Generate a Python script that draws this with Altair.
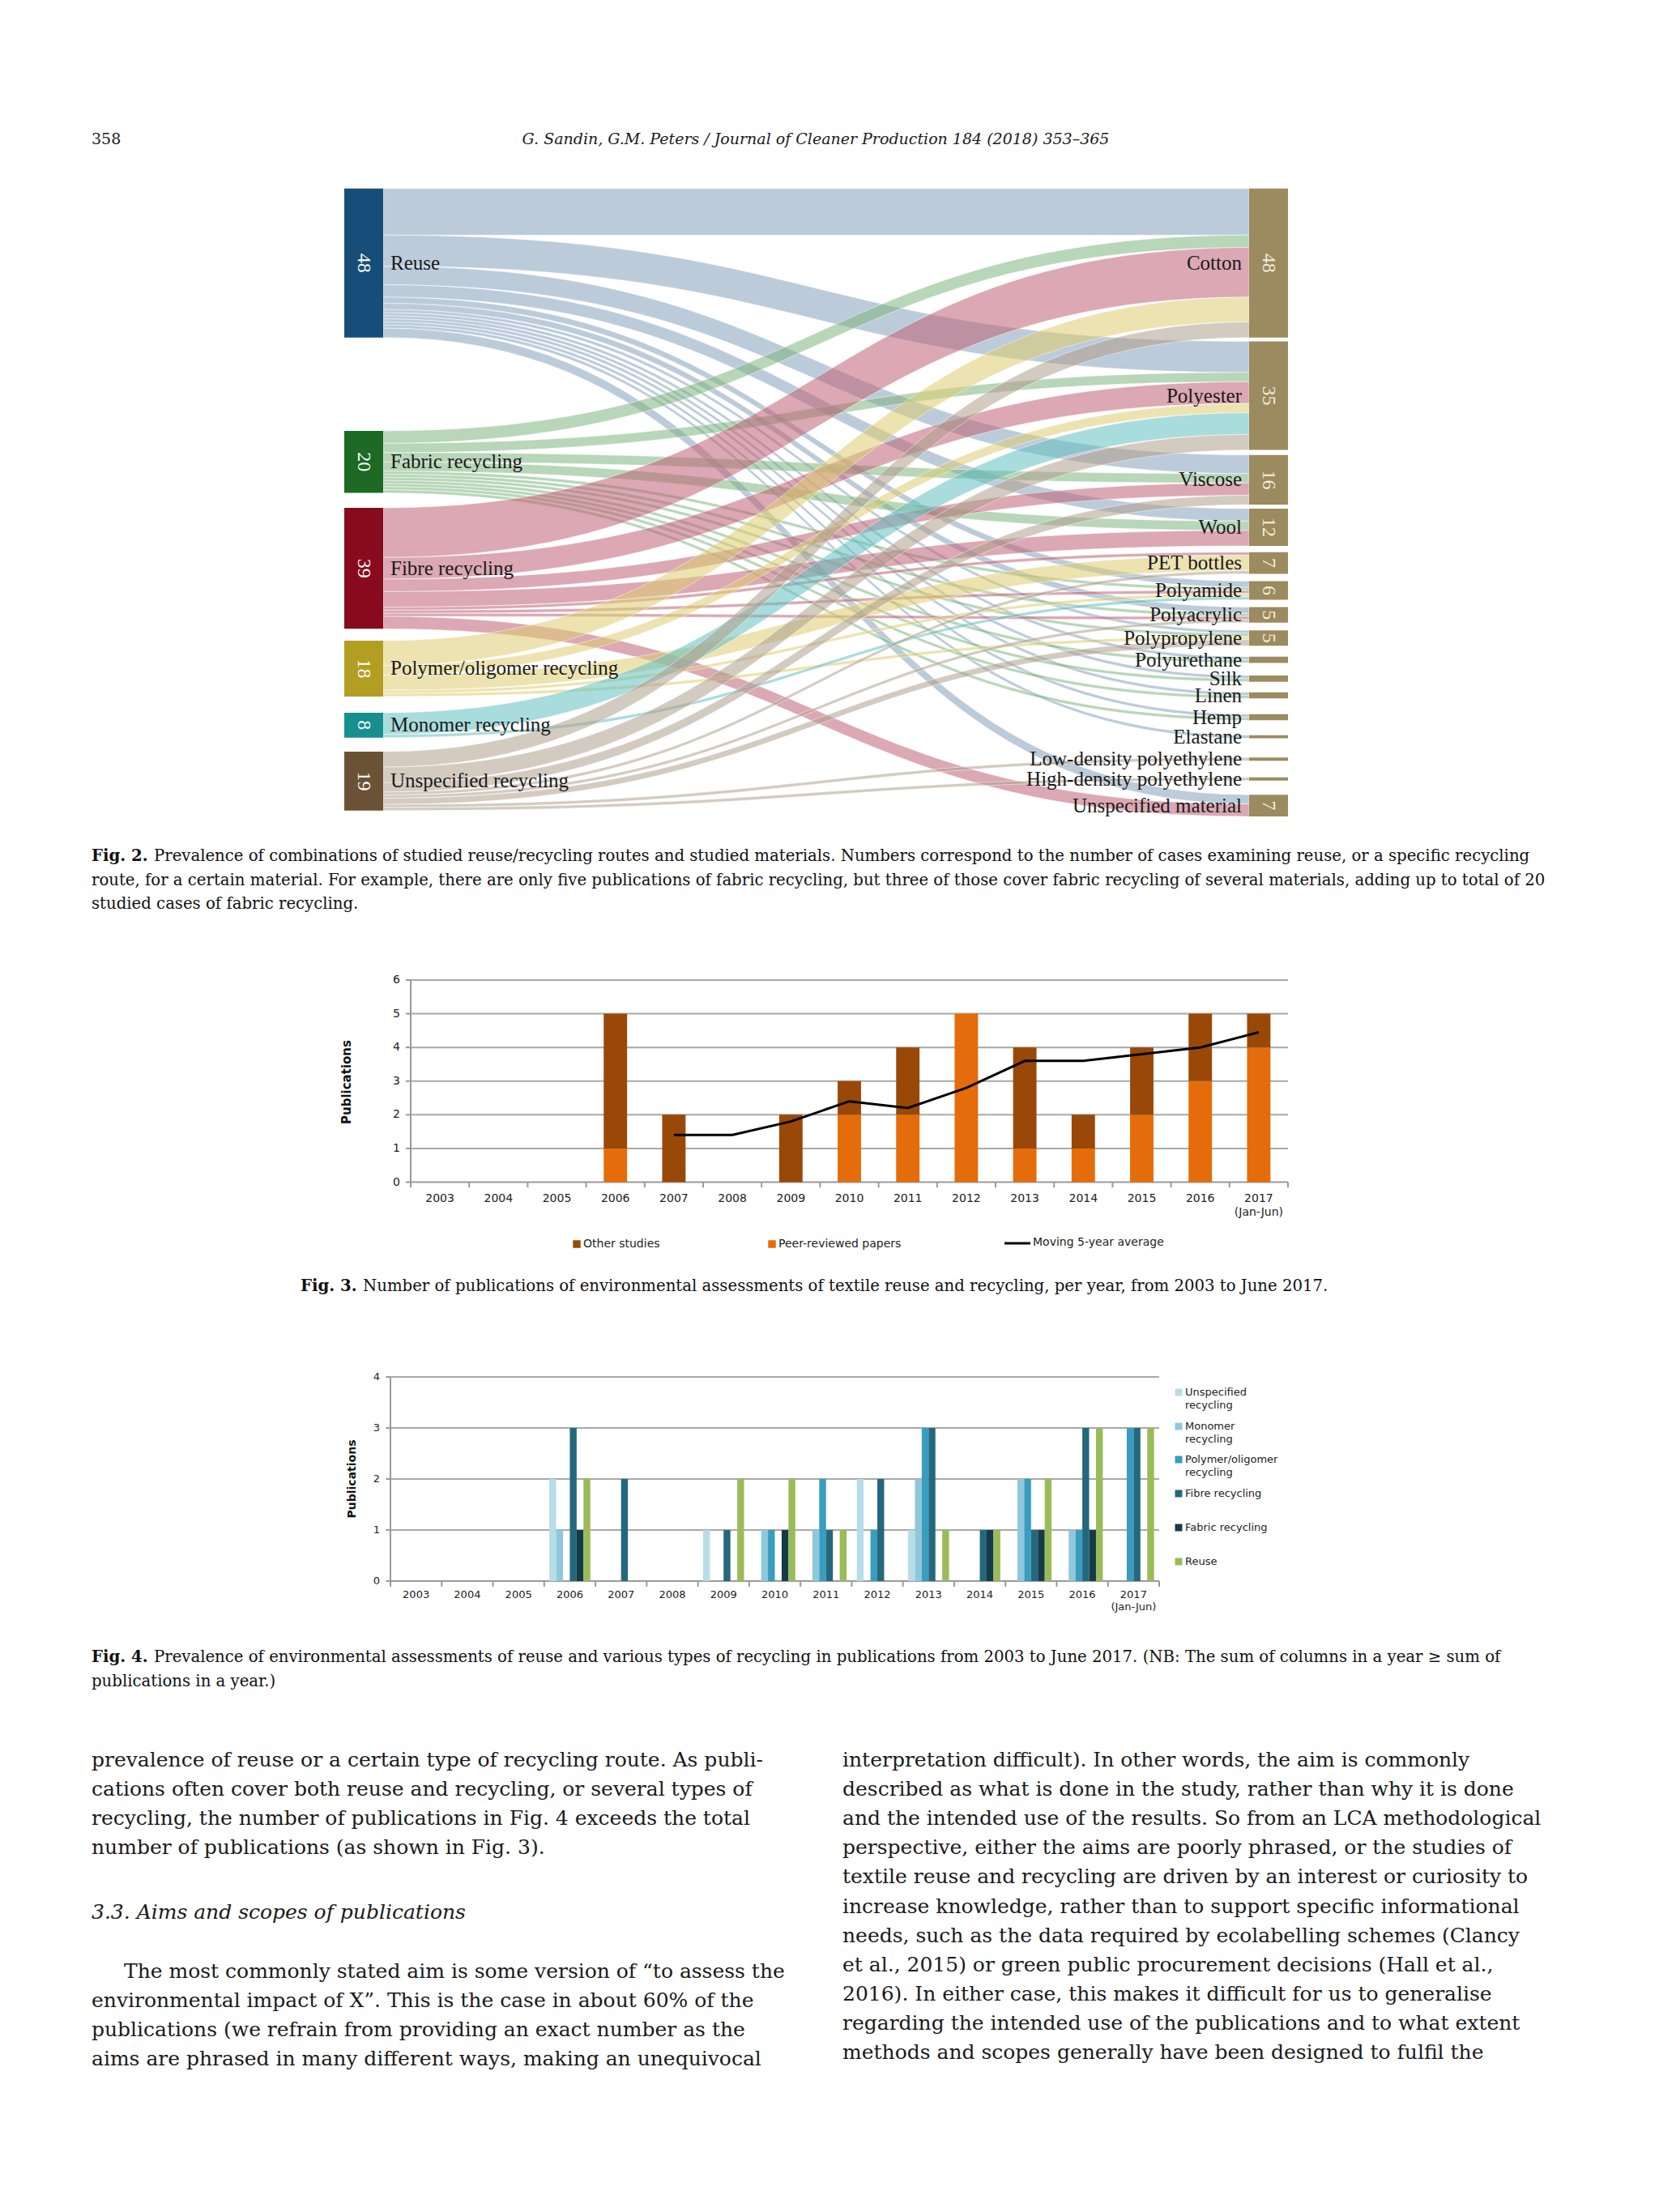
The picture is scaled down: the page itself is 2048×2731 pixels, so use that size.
import altair as alt
import pandas as pd

# ======================= DATA =======================
# ---- Fig. 2 : Sankey (routes -> materials) ----
ROUTES = ["Reuse", "Fabric recycling", "Fibre recycling",
          "Polymer/oligomer recycling", "Monomer recycling", "Unspecified recycling"]
ROUTE_TOTALS = [48, 20, 39, 18, 8, 19]
MATERIALS = ["Cotton", "Polyester", "Viscose", "Wool", "PET bottles", "Polyamide",
             "Polyacrylic", "Polypropylene", "Polyurethane", "Silk", "Linen", "Hemp",
             "Elastane", "Low-density polyethylene", "High-density polyethylene",
             "Unspecified material"]
MATERIAL_TOTALS = [48, 35, 16, 12, 7, 6, 5, 5, 2, 2, 2, 2, 1, 1, 1, 7]
#                 Cot Pes Vis Wol PET PA  PAC PP  PU  Sil Lin Hmp Ela LD  HD  Uns
FLOW_REUSE   = [15, 10, 6, 4, 0, 2, 2, 1, 1, 1, 1, 1, 1, 0, 0, 3]
FLOW_FABRIC  = [4, 3, 3, 3, 0, 1, 1, 1, 1, 1, 1, 1, 0, 0, 0, 0]
FLOW_FIBRE   = [16, 7, 4, 5, 1, 1, 1, 0, 0, 0, 0, 0, 0, 0, 0, 4]
FLOW_POLYMER = [8, 3, 0, 0, 5, 1, 0, 1, 0, 0, 0, 0, 0, 0, 0, 0]
FLOW_MONOMER = [0, 7, 0, 0, 0, 1, 0, 0, 0, 0, 0, 0, 0, 0, 0, 0]
FLOW_UNSPEC  = [5, 5, 3, 0, 1, 0, 1, 2, 0, 0, 0, 0, 0, 1, 1, 0]
FLOWS = [FLOW_REUSE, FLOW_FABRIC, FLOW_FIBRE, FLOW_POLYMER, FLOW_MONOMER, FLOW_UNSPEC]

# ---- Fig. 3 ----
YEAR_LABELS = ["2003", "2004", "2005", "2006", "2007", "2008", "2009", "2010",
               "2011", "2012", "2013", "2014", "2015", "2016", "2017\n(Jan-Jun)"]
PEER_REVIEWED = [0, 0, 0, 1, 0, 0, 0, 2, 2, 5, 1, 1, 2, 3, 4]
OTHER_STUDIES = [0, 0, 0, 4, 2, 0, 2, 1, 2, 0, 3, 1, 2, 2, 1]
MOVING_AVG = [None, None, None, None, 1.4, 1.4, 1.8, 2.4, 2.2, 2.8, 3.6, 3.6, 3.8, 4.0, 4.45]
F3_TICKS = [0, 1, 2, 3, 4, 5, 6]

# ---- Fig. 4 ----
F4_SERIES = ["Unspecified recycling", "Monomer recycling", "Polymer/oligomer recycling",
             "Fibre recycling", "Fabric recycling", "Reuse"]
F4_UNSPEC  = [0, 0, 0, 2, 0, 0, 1, 0, 0, 2, 1, 0, 0, 0, 0]
F4_MONOMER = [0, 0, 0, 1, 0, 0, 0, 1, 1, 0, 2, 0, 2, 1, 0]
F4_POLYMER = [0, 0, 0, 0, 0, 0, 0, 1, 2, 1, 3, 0, 2, 1, 3]
F4_FIBRE   = [0, 0, 0, 3, 2, 0, 1, 0, 1, 2, 3, 1, 1, 3, 3]
F4_FABRIC  = [0, 0, 0, 1, 0, 0, 0, 1, 0, 0, 0, 1, 1, 1, 0]
F4_REUSE   = [0, 0, 0, 2, 0, 0, 2, 2, 1, 0, 1, 1, 2, 3, 3]
F4_VALUES = [F4_UNSPEC, F4_MONOMER, F4_POLYMER, F4_FIBRE, F4_FABRIC, F4_REUSE]
F4_TICKS = [0, 1, 2, 3, 4]
F4_LEGEND_LINES = [["Unspecified", "recycling"], ["Monomer", "recycling"],
                   ["Polymer/oligomer", "recycling"], ["Fibre recycling"],
                   ["Fabric recycling"], ["Reuse"]]

# ---- Text ----
HEADER_LEFT = "358"
HEADER_CENTER = "G. Sandin, G.M. Peters / Journal of Cleaner Production 184 (2018) 353\u2013365"
CAP2 = ["Prevalence of combinations of studied reuse/recycling routes and studied materials. Numbers correspond to the number of cases examining reuse, or a specific recycling",
        "route, for a certain material. For example, there are only five publications of fabric recycling, but three of those cover fabric recycling of several materials, adding up to total of 20",
        "studied cases of fabric recycling."]
CAP3 = "Number of publications of environmental assessments of textile reuse and recycling, per year, from 2003 to June 2017."
CAP4 = ["Prevalence of environmental assessments of reuse and various types of recycling in publications from 2003 to June 2017. (NB: The sum of columns in a year \u2265 sum of",
        "publications in a year.)"]
BODY_LEFT_1 = ["prevalence of reuse or a certain type of recycling route. As publi-",
               "cations often cover both reuse and recycling, or several types of",
               "recycling, the number of publications in Fig. 4 exceeds the total",
               "number of publications (as shown in Fig. 3)."]
HEADING = "3.3.  Aims and scopes of publications"
BODY_LEFT_2 = ["The most commonly stated aim is some version of \u201cto assess the",
               "environmental impact of X\u201d. This is the case in about 60% of the",
               "publications (we refrain from providing an exact number as the",
               "aims are phrased in many different ways, making an unequivocal"]
BODY_RIGHT = ["interpretation difficult). In other words, the aim is commonly",
              "described as what is done in the study, rather than why it is done",
              "and the intended use of the results. So from an LCA methodological",
              "perspective, either the aims are poorly phrased, or the studies of",
              "textile reuse and recycling are driven by an interest or curiosity to",
              "increase knowledge, rather than to support specific informational",
              "needs, such as the data required by ecolabelling schemes (Clancy",
              "et al., 2015) or green public procurement decisions (Hall et al.,",
              "2016). In either case, this makes it difficult for us to generalise",
              "regarding the intended use of the publications and to what extent",
              "methods and scopes generally have been designed to fulfil the"]

# ======================= LAYOUT / STYLE =======================
M = 8
CW, CH = 2048 - 2 * M, 2731 - 2 * M


def c(v):
    return v - M


PX = alt.Scale(domain=[M, 2048 - M], range=[0, CW], nice=False, zero=False)
PY = alt.Scale(domain=[M, 2731 - M], range=[0, CH], nice=False, zero=False)

SK_UNIT = 3.83
SK_LEFT_X = (425, 473)
SK_RIGHT_X = (1542, 1590)
SK_LEFT_TOP = [232.8, 532, 627, 791, 880, 928]
SK_RIGHT_TOP = [232.8, 421.5, 561.8, 628, 681.7, 717.4, 749.6, 778.2, 810.8, 834,
                854.7, 881.7, 907.7, 935.3, 959.8, 981.2]
LEFT_NODE_COLORS = ["#174e79", "#1c6a24", "#870b1d", "#b49e22", "#178f8f", "#6b5234"]
RIBBON_COLORS = ["#85a0bc", "#7eb57e", "#be6175", "#dccc6f", "#63c0c0", "#af9e8c"]
RIGHT_NODE_COLOR = "#9c8b5f"

F3_X0, F3_X1, F3_YB, F3_YT = 507, 1590, 1459.5, 1210
F3_COLORS = ["#e46c0a", "#9a4808"]
F4_X0, F4_X1, F4_YB, F4_YT = 482, 1431, 1952, 1700
F4_COLORS = ["#b7dde8", "#8fc8da", "#3a9cbf", "#24687d", "#153a48", "#9bbb59"]
GRID = "#a8a8a8"
SERIF = "DejaVu Serif"
SANS = "DejaVu Sans"
SK_FONT = "Liberation Serif"
CAP_SIZE = 19.7
BODY_SIZE = 25.0

layers = []


def xy(sx, sy, x2=False, y2=False):
    e = dict(x=alt.X("x:Q", scale=sx, axis=None),
             y=alt.Y("y:Q", scale=sy, axis=None, stack=False))
    if x2:
        e["x2"] = alt.X2("x2:Q")
    if y2:
        e["y2"] = alt.Y2("y2:Q")
    return e


def text_layer(rows, sx=PX, sy=PY, **kw):
    base = dict(align="left", baseline="middle", font=SERIF, fontSize=20, color="#1a1a1a")
    base.update(kw)
    return alt.Chart(pd.DataFrame(rows, columns=["x", "y", "t"])).mark_text(**base).encode(
        **xy(sx, sy), text="t:N")


# ======================= FIG 2: SANKEY =======================
left_y, right_y = {}, {}
for i in range(len(ROUTES)):
    off = SK_LEFT_TOP[i]
    for j in range(len(MATERIALS)):
        v = FLOWS[i][j]
        if v:
            left_y[(i, j)] = off
            off += v * SK_UNIT
for j in range(len(MATERIALS)):
    off = SK_RIGHT_TOP[j]
    for i in range(len(ROUTES)):
        v = FLOWS[i][j]
        if v:
            right_y[(i, j)] = off
            off += v * SK_UNIT

rib = []
N = 48
x0, x1 = SK_LEFT_X[1], SK_RIGHT_X[0]
xm = (x0 + x1) / 2
for (i, j), y0 in left_y.items():
    y1 = right_y[(i, j)]
    h = FLOWS[i][j] * SK_UNIT
    for k in range(N + 1):
        t = k / N
        x = (1 - t) ** 3 * x0 + 3 * (1 - t) ** 2 * t * xm + 3 * (1 - t) * t ** 2 * xm + t ** 3 * x1
        e = 3 * t * t - 2 * t ** 3
        yy = y0 + (y1 - y0) * e
        rib.append(dict(flow=f"{i}-{j}", route=ROUTES[i], x=x, y=yy, y2=yy + h))
rib_df = pd.DataFrame(rib)
layers.append(
    alt.Chart(rib_df).mark_area(fillOpacity=0.55, stroke="white", strokeWidth=0.8,
                                strokeOpacity=0.6, interpolate="linear").encode(
        **xy(PX, PY, y2=True),
        color=alt.Color("route:N", scale=alt.Scale(domain=ROUTES, range=RIBBON_COLORS), legend=None),
        detail="flow:N"))

ln = pd.DataFrame({"name": ROUTES, "v": ROUTE_TOTALS, "top": SK_LEFT_TOP})
ln["x"], ln["x2"] = SK_LEFT_X
ln["y"] = ln["top"]
ln["y2"] = ln["top"] + ln["v"] * SK_UNIT
layers.append(alt.Chart(ln).mark_rect().encode(
    **xy(PX, PY, x2=True, y2=True),
    color=alt.Color("name:N", scale=alt.Scale(domain=ROUTES, range=LEFT_NODE_COLORS), legend=None)))

rn = pd.DataFrame({"name": MATERIALS, "v": MATERIAL_TOTALS, "top": SK_RIGHT_TOP})
rn["x"], rn["x2"] = SK_RIGHT_X
rn["y"] = rn["top"]
rn["y2"] = rn["top"] + rn["v"] * SK_UNIT
layers.append(alt.Chart(rn).mark_rect(color=RIGHT_NODE_COLOR).encode(**xy(PX, PY, x2=True, y2=True)))

# node numbers
lnum = [((SK_LEFT_X[0] + SK_LEFT_X[1]) / 2, r.y + (r.y2 - r.y) / 2, str(r.v)) for r in ln.itertuples()]
rnum = [((SK_RIGHT_X[0] + SK_RIGHT_X[1]) / 2, r.y + (r.y2 - r.y) / 2, str(r.v))
        for r in rn.itertuples() if r.v >= 5]
layers.append(text_layer(lnum, align="center", font=SK_FONT, fontSize=24, angle=90, color="white"))
layers.append(text_layer(rnum, align="center", font=SK_FONT, fontSize=24, angle=90, color="#f4eedc"))
# node labels
llab = [(SK_LEFT_X[1] + 9, r.y + (r.y2 - r.y) / 2, r.name) for r in ln.itertuples()]
rlab = [(SK_RIGHT_X[0] - 9, r.y + (r.y2 - r.y) / 2, r.name) for r in rn.itertuples()]
layers.append(text_layer(llab, font=SK_FONT, fontSize=25, color="#1a1a1a"))
layers.append(text_layer(rlab, align="right", font=SK_FONT, fontSize=25, color="#1a1a1a"))

# ======================= FIG 3 =======================
F3X = alt.Scale(domain=[-0.5, 14.5], range=[c(F3_X0), c(F3_X1)], nice=False, zero=False)
F3Y = alt.Scale(domain=[0, 6], range=[c(F3_YB), c(F3_YT)], nice=False, zero=False)
n = len(YEAR_LABELS)
grid3 = pd.DataFrame({"x": -0.5, "x2": 14.5, "y": F3_TICKS[1:], "y2": F3_TICKS[1:]})
layers.append(alt.Chart(grid3).mark_rule(color=GRID, strokeWidth=2).encode(**xy(F3X, F3Y, x2=True, y2=True)))
axis3 = pd.DataFrame([
    {"x": -0.5, "x2": 14.5, "y": 0, "y2": 0},
    {"x": -0.5, "x2": -0.5, "y": 0, "y2": 6}]
    + [{"x": -0.5 - 0.085, "x2": -0.5, "y": v, "y2": v} for v in F3_TICKS]
    + [{"x": k - 0.5, "x2": k - 0.5, "y": 0, "y2": -0.16} for k in range(n + 1)])
layers.append(alt.Chart(axis3).mark_rule(color="#9a9a9a", strokeWidth=2).encode(**xy(F3X, F3Y, x2=True, y2=True)))

bars3 = []
for k in range(n):
    if PEER_REVIEWED[k]:
        bars3.append(dict(s="Peer-reviewed papers", x=k - 0.2, x2=k + 0.2, y=0, y2=PEER_REVIEWED[k]))
    if OTHER_STUDIES[k]:
        bars3.append(dict(s="Other studies", x=k - 0.2, x2=k + 0.2, y=PEER_REVIEWED[k],
                          y2=PEER_REVIEWED[k] + OTHER_STUDIES[k]))
layers.append(alt.Chart(pd.DataFrame(bars3)).mark_rect().encode(
    **xy(F3X, F3Y, x2=True, y2=True),
    color=alt.Color("s:N", scale=alt.Scale(domain=["Peer-reviewed papers", "Other studies"], range=F3_COLORS),
                    legend=None)))
line3 = pd.DataFrame([{"x": k, "y": v} for k, v in enumerate(MOVING_AVG) if v is not None])
layers.append(alt.Chart(line3).mark_line(color="black", strokeWidth=3).encode(**xy(F3X, F3Y)))

layers.append(text_layer([(k, 0, YEAR_LABELS[k]) for k in range(n)], F3X, F3Y, align="center",
                         baseline="top", dy=13, font=SANS, fontSize=14, color="#222222",
                         lineBreak="\n", lineHeight=17))
layers.append(text_layer([(-0.5, v, str(v)) for v in F3_TICKS], F3X, F3Y, align="right",
                         dx=-13, font=SANS, fontSize=14, color="#222222"))
layers.append(text_layer([(428, 1336, "Publications")], align="center", angle=270,
                         font=SANS, fontSize=15, fontWeight="bold", color="#111111"))
# legend
leg3 = pd.DataFrame({"x": [712, 953], "y": [1536, 1536], "s": ["Other studies", "Peer-reviewed papers"]})
layers.append(alt.Chart(leg3).mark_square(size=90, opacity=1).encode(
    **xy(PX, PY),
    color=alt.Color("s:N", scale=alt.Scale(domain=["Peer-reviewed papers", "Other studies"], range=F3_COLORS),
                    legend=None)))
layers.append(alt.Chart(pd.DataFrame({"x": [1240], "x2": [1272], "y": [1535], "y2": [1535]})).mark_rule(
    color="black", strokeWidth=3).encode(**xy(PX, PY, x2=True, y2=True)))
layers.append(text_layer([(720, 1536, "Other studies"), (961, 1536, "Peer-reviewed papers"),
                          (1275, 1534, "Moving 5-year average")],
                         font=SANS, fontSize=14, color="#222222"))

# ======================= FIG 4 =======================
F4X = alt.Scale(domain=[-0.5, 14.5], range=[c(F4_X0), c(F4_X1)], nice=False, zero=False)
F4Y = alt.Scale(domain=[0, 4], range=[c(F4_YB), c(F4_YT)], nice=False, zero=False)
grid4 = pd.DataFrame({"x": -0.5, "x2": 14.5, "y": F4_TICKS[1:], "y2": F4_TICKS[1:]})
layers.append(alt.Chart(grid4).mark_rule(color=GRID, strokeWidth=2).encode(**xy(F4X, F4Y, x2=True, y2=True)))
axis4 = pd.DataFrame([
    {"x": -0.5, "x2": 14.5, "y": 0, "y2": 0},
    {"x": -0.5, "x2": -0.5, "y": 0, "y2": 4}]
    + [{"x": -0.5 - 0.09, "x2": -0.5, "y": v, "y2": v} for v in F4_TICKS]
    + [{"x": k - 0.5, "x2": k - 0.5, "y": 0, "y2": -0.11} for k in range(n + 1)])
layers.append(alt.Chart(axis4).mark_rule(color="#9a9a9a", strokeWidth=2).encode(**xy(F4X, F4Y, x2=True, y2=True)))
bw = 0.8 / len(F4_SERIES)
bars4 = []
for s, vals in enumerate(F4_VALUES):
    for k in range(n):
        if vals[k]:
            xa = k - 0.4 + s * bw
            bars4.append(dict(s=F4_SERIES[s], x=xa, x2=xa + bw, y=0, y2=vals[k]))
layers.append(alt.Chart(pd.DataFrame(bars4)).mark_rect().encode(
    **xy(F4X, F4Y, x2=True, y2=True),
    color=alt.Color("s:N", scale=alt.Scale(domain=F4_SERIES, range=F4_COLORS), legend=None)))
layers.append(text_layer([(k, 0, YEAR_LABELS[k]) for k in range(n)], F4X, F4Y, align="center",
                         baseline="top", dy=11, font=SANS, fontSize=13, color="#222222",
                         lineBreak="\n", lineHeight=15))
layers.append(text_layer([(-0.5, v, str(v)) for v in F4_TICKS], F4X, F4Y, align="right",
                         dx=-13, font=SANS, fontSize=13, color="#222222"))
layers.append(text_layer([(435, 1826, "Publications")], align="center", angle=270,
                         font=SANS, fontSize=14, fontWeight="bold", color="#111111"))
LEG4_Y = [1719, 1761, 1802, 1844, 1886, 1928]
leg4 = pd.DataFrame({"x": 1455, "y": LEG4_Y, "s": F4_SERIES})
layers.append(alt.Chart(leg4).mark_square(size=80, opacity=1).encode(
    **xy(PX, PY), color=alt.Color("s:N", scale=alt.Scale(domain=F4_SERIES, range=F4_COLORS), legend=None)))
leg4_text = []
for yy, lines in zip(LEG4_Y, F4_LEGEND_LINES):
    for li, s in enumerate(lines):
        leg4_text.append((1463, yy + 15.5 * li, s))
layers.append(text_layer(leg4_text, font=SANS, fontSize=13, color="#222222"))

# ======================= PAGE TEXT =======================
layers.append(text_layer([(113, 172, HEADER_LEFT)], font=SERIF, fontSize=19))
layers.append(text_layer([(1007, 172, HEADER_CENTER)], align="center", font=SERIF, fontSize=19,
                         fontStyle="italic"))
# captions
layers.append(text_layer([(113, 1057, "Fig. 2."), (371, 1588, "Fig. 3."), (113, 2046, "Fig. 4.")],
                         font=SERIF, fontSize=CAP_SIZE, fontWeight="bold", color="#111111"))
layers.append(text_layer([(190, 1057, CAP2[0]), (113, 1087, CAP2[1]), (113, 1116, CAP2[2]),
                          (448, 1588, CAP3),
                          (190, 2046, CAP4[0]), (113, 2076, CAP4[1])],
                         font=SERIF, fontSize=CAP_SIZE, color="#111111"))
# body
body = [(113, 2173 + 36 * i, s) for i, s in enumerate(BODY_LEFT_1)]
body += [(153 if i == 0 else 113, 2434 + 36 * i, s) for i, s in enumerate(BODY_LEFT_2)]
body += [(1040, 2173 + 36.1 * i, s) for i, s in enumerate(BODY_RIGHT)]
layers.append(text_layer(body, font=SERIF, fontSize=BODY_SIZE, color="#1a1a1a"))
layers.append(text_layer([(113, 2361, HEADING)], font=SERIF, fontSize=BODY_SIZE, fontStyle="italic",
                         color="#1a1a1a"))

chart = alt.layer(*layers).resolve_scale(
    x="independent", y="independent", color="independent"
).properties(
    width=CW, height=CH, padding=0, background="white",
    autosize=alt.AutoSizeParams(type="none")
).configure_view(strokeWidth=0)

chart.save("out.html", embed_options={"renderer": "svg", "actions": False})
